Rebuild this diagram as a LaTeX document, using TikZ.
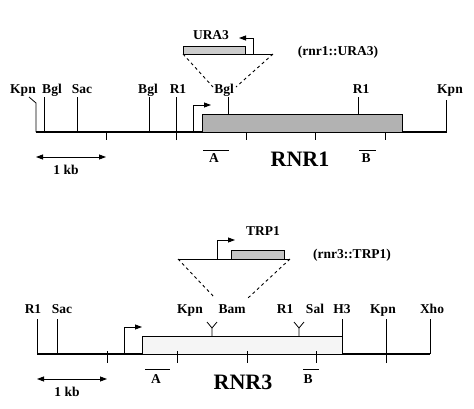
\documentclass[tikz,border=0pt]{standalone}
\usepackage{fontspec}
\setmainfont{Liberation Serif}
\usetikzlibrary{arrows.meta}

\begin{document}
\begin{tikzpicture}[x=1pt,y=-1pt,>={Triangle[length=7pt,width=5pt]},line width=0.8pt,
    site/.style={font=\bfseries\fontsize{13.5}{15}\selectfont,anchor=base,inner sep=0pt},
    gene/.style={font=\bfseries\fontsize{22}{24}\selectfont,anchor=base,inner sep=0pt},
    dna/.style={line width=1.6pt},
    insert/.style={dashed,line width=0.9pt}]
  \useasboundingbox (0,0) rectangle (474,408);

  % RNR1 map
  \draw[dna] (36,132) -- (447,132);
  \filldraw[fill=gray!60] (202,114) rectangle (402,132);
  \foreach \x in {106,246,315,385}
    \draw (\x,132) -- (\x,140);
  \draw (36,132) -- (36,103) -- (29,97);
  \draw (44,132) -- (44,97);
  \draw (77,132) -- (77,97);
  \draw (149,132) -- (149,97);
  \draw (176,140) -- (176,97);
  \draw (228,114) -- (228,97);
  \draw (358,114) -- (358,97);
  \draw (446,132) -- (446,100);
  \draw[->] (193,132) -- (193,105) -- (211,105);

  \node[site] (kpn1) at (23,93)  {Kpn};
  \node[site] (bgl1) at (52,93)  {Bgl};
  \node[site] (sac1) at (82,93)  {Sac};
  \node[site] (bgl2) at (148,93) {Bgl};
  \node[site] (ri1)  at (178,93) {R1};
  \node[site] (bgl3) at (224,93) {Bgl};
  \node[site] (ri2)  at (361,93) {R1};
  \node[site] (kpn2) at (450,93) {Kpn};

  % URA3 insertion
  \draw (183,54) -- (273,54);
  \filldraw[fill=gray!40] (183,46) rectangle (245,54);
  \draw[->] (253,54) -- (253,38) -- (239,38);
  \node[site] (ura)  at (211,39) {URA3};
  \node[site] (rnra) at (338,55) {(rnr1::URA3)};
  \draw[insert] (183,54) -- (213,87);
  \draw[insert] (273,54) -- (236,87);

  \draw (203,150) -- (229,150);
  \draw (359,150) -- (376,150);
  \node[site] (pa1) at (214,162) {A};
  \node[site] (pb1) at (366,162) {B};
  \node[gene] (rnr1) at (300,166) {RNR1};
  \draw[<->] (36,157) -- (106,157);
  \node[site] (kb1) at (66,174) {1 kb};

  % RNR3 map
  \draw[dna] (37,354) -- (430,354);
  \filldraw[fill=gray!8] (142,336) rectangle (342,354);
  \foreach \x in {107,177,247,316}
    \draw (\x,351) -- (\x,363);
  \draw (37,354) -- (37,319);
  \draw (57,354) -- (57,319);
  \draw (342,354) -- (342,319);
  \draw (386,363) -- (386,319);
  \draw (430,354) -- (430,319);
  \draw (212,336) -- (212,328) -- (207,322);
  \draw (212,328) -- (217,322);
  \draw (299,336) -- (299,328) -- (294,322);
  \draw (299,328) -- (304,322);
  \draw[->] (124,354) -- (124,327) -- (142,327);

  \node[site] (ri3)  at (33,313)  {R1};
  \node[site] (sac2) at (62,313)  {Sac};
  \node[site] (kpn3) at (190,313) {Kpn};
  \node[site] (bam)  at (232,313) {Bam};
  \node[site] (ri4)  at (285,313) {R1};
  \node[site] (sal)  at (315,313) {Sal};
  \node[site] (hiii) at (342,313) {H3};
  \node[site] (kpn4) at (383,313) {Kpn};
  \node[site] (xho)  at (432,313) {Xho};

  % TRP1 insertion
  \draw (178,259) -- (290,259);
  \filldraw[fill=gray!45] (231,250) rectangle (284,259);
  \draw[->] (217,259) -- (217,240) -- (235,240);
  \node[site] (trp)  at (263,235) {TRP1};
  \node[site] (rnrt) at (352,258) {(rnr3::TRP1)};
  \draw[insert] (178,259) -- (215,298);
  \draw[insert] (290,259) -- (248,298);

  \draw (145,369) -- (170,369);
  \draw (303,369) -- (319,369);
  \node[site] (pa3) at (156,383) {A};
  \node[site] (pb3) at (308,383) {B};
  \node[gene] (rnr3) at (243,389) {RNR3};
  \draw[<->] (37,379) -- (107,379);
  \node[site] (kb3) at (67,396) {1 kb};
\end{tikzpicture}
\end{document}
